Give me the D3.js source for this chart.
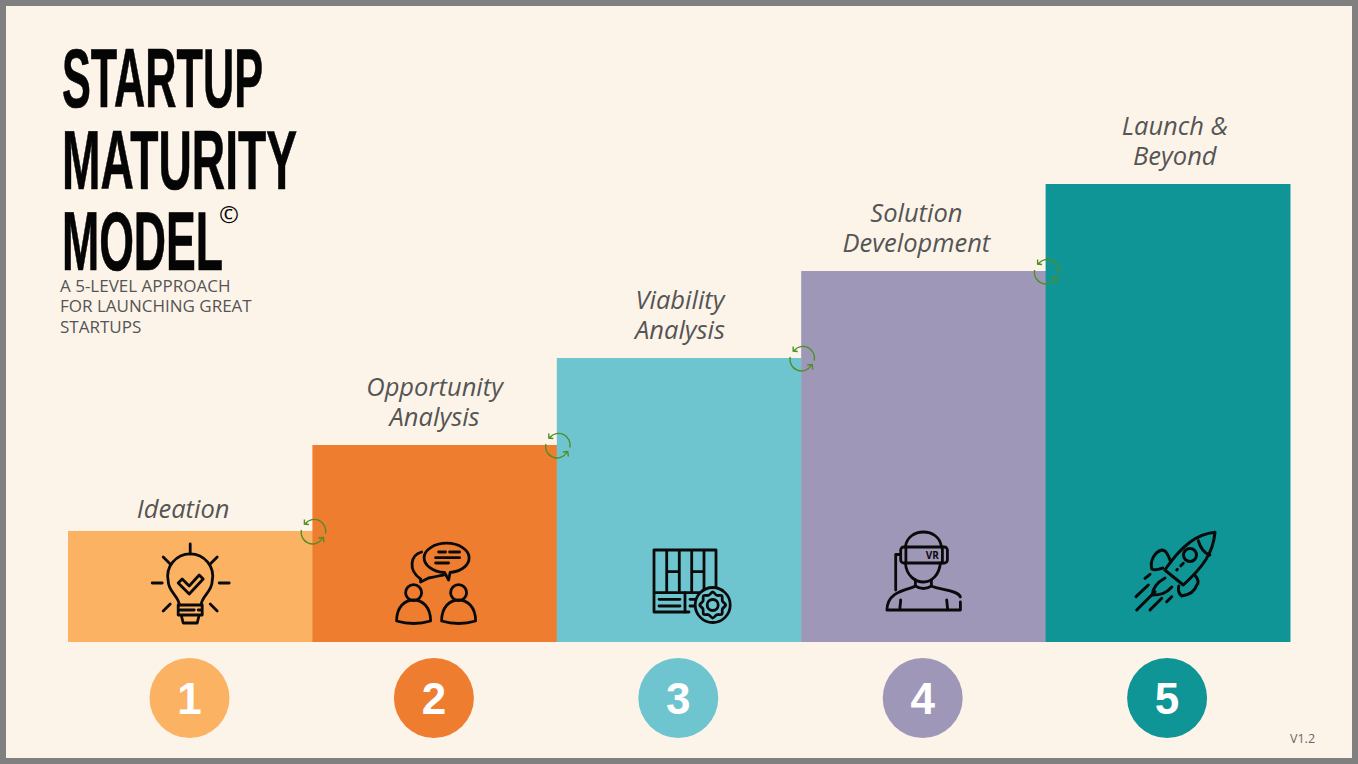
<!DOCTYPE html>
<html>
<head>
<meta charset="utf-8">
<script src="https://cdn.jsdelivr.net/npm/d3@7"></script>
<style>
  html, body { margin: 0; padding: 0; background: #fdf4e9; overflow: hidden; }
  svg { display: block; }
  .icon * { fill: none; stroke: #0a0a0a; stroke-width: 2.8; stroke-linecap: round; stroke-linejoin: round; }
</style>
</head>
<body>
<svg id="chart" width="1358" height="764"></svg>
<script>
const levels = [1, 2, 3, 4, 5];
const heights = [111, 197, 284, 371, 458];
const stageLabels = [
  ["Ideation"],
  ["Opportunity", "Analysis"],
  ["Viability", "Analysis"],
  ["Solution", "Development"],
  ["Launch &", "Beyond"],
];
const colors = ["#fbb263", "#ee7d30", "#6fc5cf", "#9f97b8", "#0f9595"];
const titleLines = ["STARTUP", "MATURITY", "MODEL"];
const subtitleLines = ["A 5-LEVEL APPROACH", "FOR LAUNCHING GREAT", "STARTUPS"];

const svg = d3.select("#chart");
const width = 1358,
  height = 764;

svg.append("rect")
  .attr("x", 3).attr("y", 3)
  .attr("width", width - 6).attr("height", height - 6)
  .attr("fill", "#fdf4e9")
  .attr("stroke", "#808080")
  .attr("stroke-width", 6);

const x = d3.scaleBand().domain(levels).range([68, 1290]);
const y = d3.scaleLinear().domain([0, 458]).range([642, 184]);
const cx = (d) => x(d) + x.bandwidth() / 2;

svg.selectAll("rect.bar")
  .data(levels)
  .enter()
  .append("rect")
  .attr("class", "bar")
  .attr("x", (d) => x(d))
  .attr("y", (d, i) => y(heights[i]))
  .attr("width", x.bandwidth() + 0.5)
  .attr("height", (d, i) => y(0) - y(heights[i]))
  .attr("fill", (d, i) => colors[i]);

// labels sit a little off centre in the original
const labelNudge = [-7, 0, 1, -7, 7];
svg.selectAll("text.stage")
  .data(levels)
  .enter()
  .append("text")
  .attr("class", "stage")
  .attr("text-anchor", "middle")
  .attr("font-family", "'Open Sans'")
  .attr("font-style", "italic")
  .attr("font-size", 25.5)
  .attr("fill", "#555555")
  .each(function (d, i) {
    const lines = stageLabels[i];
    const last = y(heights[i]) - (lines.length > 1 ? 19 : 13);
    d3.select(this)
      .selectAll("tspan")
      .data(lines)
      .enter()
      .append("tspan")
      .attr("x", cx(d) + labelNudge[i])
      .attr("y", (_, j) => last - (lines.length - 1 - j) * 30.5)
      .text((t) => t);
  });

// numbered circles
svg.selectAll("circle.num")
  .data(levels)
  .enter()
  .append("circle")
  .attr("class", "num")
  .attr("cx", (d) => cx(d) - 0.7)
  .attr("cy", 698)
  .attr("r", 40)
  .attr("fill", (d, i) => colors[i]);

svg.selectAll("text.num")
  .data(levels)
  .enter()
  .append("text")
  .attr("class", "num")
  .attr("x", (d) => cx(d) - 0.7)
  .attr("y", 714)
  .attr("text-anchor", "middle")
  .attr("font-family", "'Liberation Sans'")
  .attr("font-weight", 700)
  .attr("font-size", 44)
  .attr("fill", "#ffffff")
  .text((d) => d);

// title
const titleY = [107, 189, 270];
const titleW = [201, 235, 161];
svg.selectAll("text.title")
  .data(titleLines)
  .enter()
  .append("text")
  .attr("class", "title")
  .attr("x", 62)
  .attr("y", (d, i) => titleY[i])
  .attr("textLength", (d, i) => titleW[i])
  .attr("lengthAdjust", "spacingAndGlyphs")
  .attr("font-family", "'Liberation Sans'")
  .attr("font-weight", 700)
  .attr("font-size", 84)
  .attr("fill", "#050505")
  .attr("stroke", "#050505")
  .attr("stroke-width", 0.7)
  .text((d) => d);

svg.append("text")
  .attr("x", 219).attr("y", 222.5)
  .attr("font-family", "'Open Sans'")
  .attr("font-size", 24)
  .attr("fill", "#050505")
  .text("©");

svg.selectAll("text.sub")
  .data(subtitleLines)
  .enter()
  .append("text")
  .attr("class", "sub")
  .attr("x", 60)
  .attr("y", (d, i) => 292 + i * 20.3)
  .attr("font-family", "'Open Sans'")
  .attr("font-size", 17)
  .attr("fill", "#555555")
  .text((d) => d);

svg.append("text")
  .attr("x", 1290).attr("y", 743)
  .attr("font-family", "'Open Sans'")
  .attr("font-size", 12.5)
  .attr("fill", "#666666")
  .text("V1.2");

// cycle arrows on each step corner
const cycleAt = levels.slice(0, 4);
const arrowColor = "#4f8f25";
const cycle = svg.selectAll("g.cycle")
  .data(cycleAt)
  .enter()
  .append("g")
  .attr("class", "cycle")
  .attr("transform", (d, i) => `translate(${x(d) + x.bandwidth() + 1},${y(heights[i]) + 0.5})`)
  .attr("fill", "none")
  .attr("stroke", arrowColor)
  .attr("stroke-width", 1.4);
cycle.append("path").attr("d", "M-8,-8 A11.5,11.5 0 0 1 12,2 M-9,-12 L-9,-7.5 L-4.5,-7");
cycle.append("path").attr("d", "M-12,-1.5 A11.5,11.5 0 0 0 9,7 M10.5,11 L10,6 L5,6.5");

// line icons, drawn around (0,0) at the bar centre
function bulb(g) {
  g.append("path").attr("d",
    "M0,-38V-28M-38,1H-28M29,1H39M-27,-25L-20,-18M27,-25L20,-18M-27,29L-20,22M27,29L20,22");
  g.append("path").attr("d",
    "M-11,23C-11,14 -22,10 -22,-1A22.5,22.5 0 1 1 22,-1C22,10 11,14 11,23");
  g.append("path").attr("d",
    "M-12,23H12V33H-12ZM-12,28H4M8,28H12M-9,33L-7,41H7L9,33");
  g.append("path").attr("d", "M-12,1L-8,-3L-1,4L9,-7L13,-3L-1,12Z");
}

function people(g) {
  const body = "C-17,25 -9,18 0,18C9,18 17,25 17,39Q0,44 -17,39Z";
  [-21, 24].forEach((px) => {
    g.append("circle").attr("cx", px).attr("cy", 10.7).attr("r", 8);
    g.append("path").attr("d", `M-17,39${body}`).attr("transform", `translate(${px},0)`);
  });
  g.append("path").attr("d",
    "M14,-2L15.5,-9.5C29,-11 34.5,-18 34.5,-24.3C34.5,-32 24.5,-38.8 12,-38.8C-0.5,-38.8 -10.5,-32 -10.5,-24.3C-10.5,-17 -2,-10 10,-9.5Z");
  g.append("path").attr("d", "M-13,-30C-24,-27 -27,-12 -14,-3L-14,0L-6,-4C0,-5 3,-6 9,-7");
  g.append("path").attr("d", "M4,-30H11M15,-30H25M1,-24.3H25M1,-19H14");
}

function gearPath(rOut, rIn, teeth) {
  const pts = d3.range(teeth * 2).map((i) => {
    const a = (i * Math.PI) / teeth;
    const r = i % 2 ? rIn : rOut;
    return [a, r];
  });
  return d3.lineRadial().curve(d3.curveCardinalClosed.tension(0.2))(pts);
}

function warehouse(g, color) {
  g.append("path").attr("d",
    "M-25,-32H37V10.7H-25ZM-25,-32V30H10M-25,10.7H37M-12.3,-32V10.7M0.3,-32V10.7M12.7,-32V10.7M25,-32V10.7M-12.3,-10.3H0.3M12.7,-10.3H25");
  g.append("path").attr("d", "M-20,17.3H1M-20,24H1M6,10.7V30M11,17.3H16M11,24H16");
  const gear = g.append("g").attr("transform", "translate(33.7,23)");
  gear.append("circle").attr("r", 17.5).style("fill", color);
  gear.append("path").attr("d", gearPath(13, 10.5, 8));
  gear.append("circle").attr("r", 5.5);
}

function vr(g) {
  g.append("path").attr("d", "M-18,-35C-16,-55 16,-55 18,-35");
  g.append("rect").attr("x", -22.7).attr("y", -35).attr("width", 46.7).attr("height", 16).attr("rx", 3);
  g.append("path").attr("d", "M-17.5,-35V-19M19,-35V-19");
  g.append("path").attr("d", "M-18,-19C-17,-6 -8,0 0,0C9,0 16,-8 17,-19");
  g.append("path").attr("d", "M-22.7,-27.5H-27.7V8");
  g.append("path").attr("d",
    "M-8,-2V4C-14,8 -36,8 -36.5,28H37V20M37,15C35,8 16,8 8,4V-2M-8,4Q0,9 8,4M-22.7,18L-23.7,28M23.3,18L24.3,28");
  g.append("text").attr("x", 9).attr("y", -23.5)
    .attr("text-anchor", "middle")
    .attr("font-family", "'Open Sans'")
    .attr("font-weight", 700)
    .attr("font-size", 10)
    .style("fill", "#0a0a0a")
    .style("stroke", "none")
    .text("VR");
}

function rocket(g) {
  g.style("stroke-width", 3);
  g.append("path").attr("d", "M47.2,-49.7C30,-48 15,-38 -3,-12L15.5,3C35,-15 45,-28 47.2,-49.7Z");
  g.append("path").attr("d", "M30.5,-41.3C33,-33 36,-29 42,-27");
  g.append("circle").attr("cx", 22.2).attr("cy", -27).attr("r", 6.5);
  g.append("path").attr("d", "M3,-20C0,-28 -2,-32 -6,-32C-13,-30 -18,-22 -16,-13C-12,-11 -8,-13 -5,-14");
  g.append("path").attr("d", "M27,-7C31,-2 31,1 29,3C27,9 21,13 14,14C10,11 10,8 11,4");
  g.append("path").attr("d", "M-2.8,-4C-10,0 -15,6 -15.5,13C-8,13 -2,12 4,5");
  g.append("path").attr("d",
    "M8.9,-12L9.5,-12.6M15.5,-18.7L13,-16.2M-31.8,14.7L-19.5,3M-22.8,-3.7L-17.8,-7.7M-31.1,28L-12.8,9.7M-17.8,28L-6.1,16.3M-1.1,19.7L3.9,14.7");
  g.selectAll("*").style("stroke-width", 3);
}

const iconFns = [bulb, people, warehouse, vr, rocket];
svg.selectAll("g.icon")
  .data(levels)
  .enter()
  .append("g")
  .attr("class", "icon")
  .attr("transform", (d) => `translate(${cx(d)},582)`)
  .each(function (d, i) {
    iconFns[i](d3.select(this), colors[i]);
  });
</script>
</body>
</html>
